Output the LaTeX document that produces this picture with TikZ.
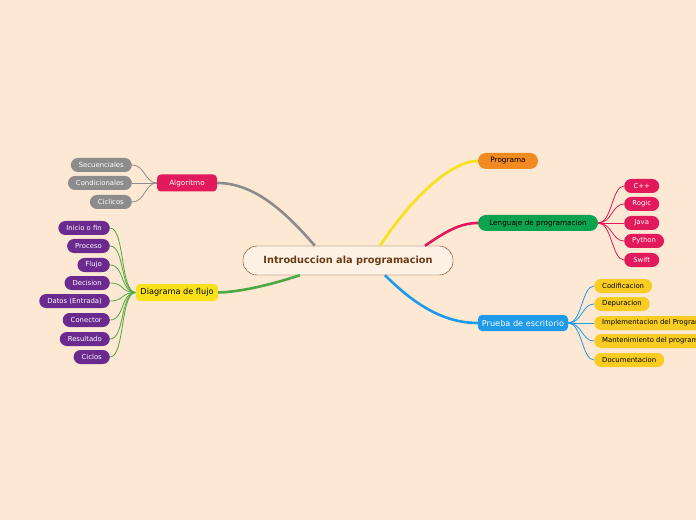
\documentclass[tikz,border=0pt]{standalone}
\usepackage{fontspec}
\setmainfont{DejaVu Sans}
\begin{document}
\begin{tikzpicture}[x=1bp,y=-1bp,
 box/.style={rounded corners=7bp,minimum height=14bp,inner xsep=8bp,inner ysep=0pt,font=\fontsize{6.9}{8}\selectfont,text=white},
 lf/.style={box,anchor=east},
 rt/.style={box,anchor=west},
 br/.style={rounded corners=4bp,minimum height=17bp,inner xsep=3bp,inner ysep=0pt,font=\fontsize{7.3}{8}\selectfont},
 main/.style={line width=2.6bp},
 twig/.style={line width=0.8bp}]
\definecolor{bg}{HTML}{FDE8D3}
\definecolor{crim}{HTML}{E2195B}
\definecolor{gr}{HTML}{8C8C8C}
\definecolor{pur}{HTML}{6A2A8E}
\definecolor{yel}{HTML}{F9E11A}
\definecolor{gold}{HTML}{F8CC22}
\definecolor{ora}{HTML}{F28A22}
\definecolor{grn}{HTML}{0CA24E}
\definecolor{blu}{HTML}{1E9AE8}
\definecolor{lgrn}{HTML}{4DA844}
\definecolor{brn}{HTML}{6B3A12}
\fill[bg] (0,0) rectangle (696,520);
\clip (0,0) rectangle (696,520);
% center
\node[draw=brn,fill=bg!60!white,rounded corners=14bp,minimum width=210bp,minimum height=29bp,font=\bfseries\fontsize{9.8}{11}\selectfont,text=brn] (c) at (348,260.5) {Introduccion ala programacion};
% branches
\node[br,fill=crim,text=white,minimum width=60bp] (alg) at (187,183) {Algoritmo};
\node[br,fill=yel,minimum width=82bp,font=\fontsize{8.2}{9}\selectfont] (dia) at (177,292.5) {Diagrama de flujo};
\node[br,fill=ora,minimum width=60bp,minimum height=16bp,rounded corners=8bp] (pro) at (508,161) {Programa};
\node[br,fill=grn,minimum width=120bp,minimum height=16bp,rounded corners=8bp] (len) at (538,223) {Lenguaje de programacion};
\node[br,fill=blu,text=white,minimum width=90bp,minimum height=16bp,font=\fontsize{8.2}{9}\selectfont] (pru) at (523,323) {Prueba de escritorio};
\draw[main,gr] (c.north west)++(72,0) coordinate (g0) (g0) .. controls (280,205) and (250,183) .. (alg.east);
\draw[main,yel] ([xshift=32bp]c.north) .. controls (410,200) and (450,161) .. (pro.west);
\draw[main,crim] ([xshift=77bp]c.north) .. controls (445,232) and (460,223) .. (len.west);
\draw[main,blu] ([xshift=37bp]c.south) .. controls (410,300) and (440,323) .. (pru.west);
\draw[main,lgrn] ([xshift=-48bp]c.south) .. controls (270,285) and (240,292) .. (dia.east);
% gray leaves
\foreach \n/\t/\y in {s1/Secuenciales/165,s2/Condicionales/183,s3/Ciclicos/202}{
 \node[lf,fill=gr] (\n) at (132,\y) {\t};
 \draw[twig,gr] (alg.west) .. controls (145,183) and (145,\y) .. (\n.east);}
% purple leaves
\foreach \n/\t/\y in {p1/Inicio o fin/228,p2/Proceso/246,p3/Flujo/265,p4/Decision/283,p5/Datos (Entrada)/301,p6/Conector/320,p7/Resultado/339,p8/Ciclos/357}{
 \node[lf,fill=pur] (\n) at (110,\y) {\t};
 \draw[twig,lgrn] (dia.west) .. controls (120,292.5) and (125,\y) .. (\n.east);}
% crimson leaves
\foreach \n/\t/\y in {l1/C++/186,l2/Rogic/204,l3/Java/223,l4/Python/241,l5/Swift/260}{
 \node[rt,fill=crim,minimum width=35bp] (\n) at (624,\y) {\t};
 \draw[twig,crim] (len.east) .. controls (612,223) and (612,\y) .. (\n.west);}
% gold leaves
\foreach \n/\t/\y in {d1/Codificacion/286,d2/Depuracion/304,d3/Implementacion del Programa/323,d4/Mantenimiento del programa/341,d5/Documentacion/360}{
 \node[rt,fill=gold,text=black] (\n) at (594,\y) {\t};
 \draw[twig,blu] (pru.east) .. controls (582,323) and (582,\y) .. (\n.west);}
\end{tikzpicture}
\end{document}
